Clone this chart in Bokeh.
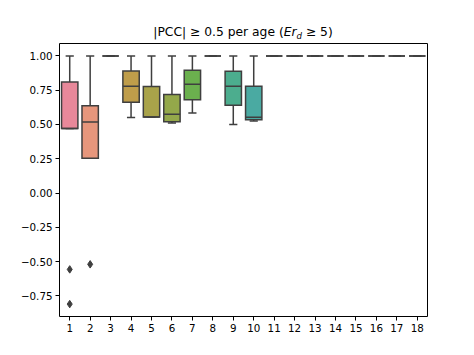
from bokeh.plotting import figure
from bokeh.models import Range1d, FixedTicker, CustomJSTickFormatter, Div
from bokeh.layouts import column
from bokeh.embed import file_html
from bokeh.resources import INLINE

# ---- data ----
ages = list(range(1, 19))
q1 = [0.47, 0.253, 1.0, 0.662, 0.555, 0.52, 0.681, 1.0, 0.64, 0.535, 1.0, 1.0, 1.0, 1.0, 1.0, 1.0, 1.0, 1.0]
median = [0.47, 0.518, 1.0, 0.779, 0.555, 0.574, 0.793, 1.0, 0.779, 0.552, 1.0, 1.0, 1.0, 1.0, 1.0, 1.0, 1.0, 1.0]
q3 = [0.81, 0.637, 1.0, 0.89, 0.776, 0.718, 0.895, 1.0, 0.888, 0.779, 1.0, 1.0, 1.0, 1.0, 1.0, 1.0, 1.0, 1.0]
whisk_lo = [0.47, 0.253, 1.0, 0.55, 0.555, 0.51, 0.584, 1.0, 0.50, 0.525, 1.0, 1.0, 1.0, 1.0, 1.0, 1.0, 1.0, 1.0]
whisk_hi = [1.0] * 18
outlier_age = [1, 1, 2]
outlier_val = [-0.557, -0.81, -0.52]
colors = ["#e8889a", "#e6967c", "#d69550", "#bf9d4a", "#a9a34a", "#94a84a",
          "#6bb04e", "#4bb06a", "#4cad8e", "#4aaaa2", "#4ca7b3", "#4fa4c4",
          "#5e9fd6", "#8f96dd", "#b28cdd", "#cc85d6", "#de82c4", "#e585b0"]
y_ticks = [-0.75, -0.5, -0.25, 0.0, 0.25, 0.5, 0.75, 1.0]
title_html = ("|PCC| \u2265 0.5 per age (<i>Er</i>"
              "<span style=\"font-style:italic;font-size:70%;position:relative;top:2.6px\">d</span>"
              " \u2265 5)")

W, H = 474, 355
title_h = 41
left, right, top, bottom = 59, 47, 2, 39
y0, y1 = -0.9005, 1.0905
x0, x1 = 0.5, 18.5

p = figure(width=W, height=H - title_h, output_backend="svg", toolbar_location=None,
           x_range=Range1d(x0, x1), y_range=Range1d(y0, y1),
           min_border_left=left, min_border_right=right,
           min_border_top=top, min_border_bottom=bottom)
p.margin = 0
p.background_fill_color = "white"
p.border_fill_color = "white"
p.outline_line_color = "black"
p.outline_line_width = 1
p.xgrid.visible = False
p.ygrid.visible = False

line_col = "#3f3f3f"
lw = 1.5
bw = 0.8
cw = 0.4

# whiskers
p.segment(x0=ages, y0=q3, x1=ages, y1=whisk_hi, line_color=line_col, line_width=lw)
p.segment(x0=ages, y0=q1, x1=ages, y1=whisk_lo, line_color=line_col, line_width=lw)
# caps
p.segment(x0=[a - cw / 2 for a in ages], y0=whisk_hi, x1=[a + cw / 2 for a in ages], y1=whisk_hi,
          line_color=line_col, line_width=lw)
p.segment(x0=[a - cw / 2 for a in ages], y0=whisk_lo, x1=[a + cw / 2 for a in ages], y1=whisk_lo,
          line_color=line_col, line_width=lw)
# boxes
p.vbar(x=ages, width=bw, bottom=q1, top=q3, fill_color=colors, line_color=line_col,
       line_width=lw, line_join="miter")
# medians
p.segment(x0=[a - bw / 2 for a in ages], y0=median, x1=[a + bw / 2 for a in ages], y1=median,
          line_color=line_col, line_width=lw)
# outliers
p.scatter(x=outlier_age, y=outlier_val, marker="diamond", size=7.5,
          fill_color=line_col, line_color=line_col)

# axes
for ax in (p.xaxis[0], p.yaxis[0]):
    ax.axis_line_color = None
    ax.major_tick_line_color = "black"
    ax.major_tick_line_width = 1
    ax.major_tick_in = 0
    ax.major_tick_out = 4
    ax.minor_tick_line_color = None
    ax.major_label_text_font = "DejaVu Sans"
    ax.major_label_text_font_size = "10.3px"
    ax.major_label_text_color = "black"
    ax.major_label_standoff = 3
p.xaxis.ticker = FixedTicker(ticks=ages)
p.yaxis.ticker = FixedTicker(ticks=y_ticks)
p.yaxis.formatter = CustomJSTickFormatter(code="return tick.toFixed(2).replace('-', '\u2212');")

title = Div(width=W, height=title_h, margin=0,
            text=("<div style=\"box-sizing:border-box;width:%dpx;padding-top:25px;padding-left:12px;"
                  "text-align:center;font-family:'DejaVu Sans';font-size:12.3px;line-height:normal;"
                  "color:black;white-space:nowrap\">%s</div>") % (W, title_html))

layout = column(title, p, spacing=0, margin=0)
open("out.html", "w").write(file_html(layout, INLINE))
